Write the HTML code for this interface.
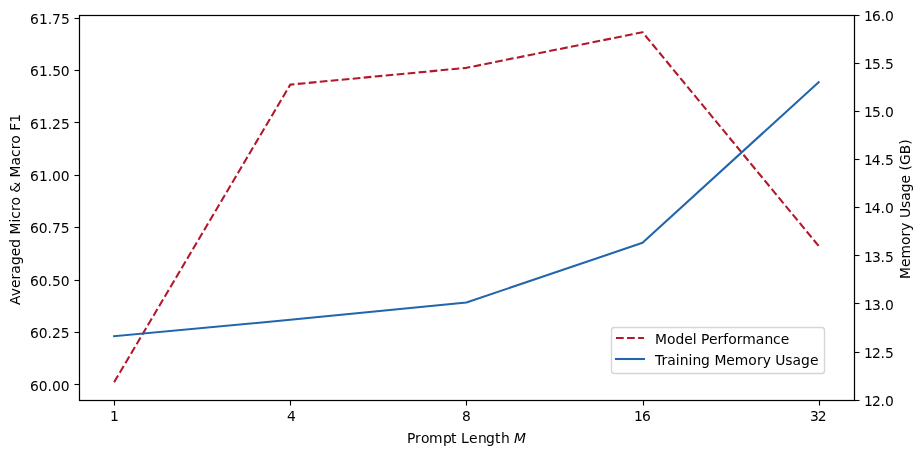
<!DOCTYPE html>
<html lang="en"><head><meta charset="utf-8"><title>Prompt Length vs Performance and Memory</title>
<style>html,body{margin:0;padding:0;background:#fff}svg{display:block}text{font-family:"DejaVu Sans","Liberation Sans",sans-serif;font-size:13.8889px;fill:#000;white-space:pre}.tk{stroke:#000;stroke-width:1.1111;fill:none}.sp{stroke:#000;stroke-width:1.1111;fill:none;stroke-linecap:square;stroke-linejoin:miter}</style></head><body>
<svg width="924" height="457" viewBox="0 0 924 457">
<rect width="924" height="457" fill="#fff"/>
<g class="tk">
<path d="M114.5 400.5V405.5"/>
<path d="M290.5 400.5V405.5"/>
<path d="M466.5 400.5V405.5"/>
<path d="M643.5 400.5V405.5"/>
<path d="M819.5 400.5V405.5"/>
<path d="M79.5 18.5H74.5"/>
<path d="M79.5 70.5H74.5"/>
<path d="M79.5 122.5H74.5"/>
<path d="M79.5 175.5H74.5"/>
<path d="M79.5 227.5H74.5"/>
<path d="M79.5 280.5H74.5"/>
<path d="M79.5 332.5H74.5"/>
<path d="M79.5 384.5H74.5"/>
<path d="M854.5 15.5H859.5"/>
<path d="M854.5 63.5H859.5"/>
<path d="M854.5 111.5H859.5"/>
<path d="M854.5 159.5H859.5"/>
<path d="M854.5 207.5H859.5"/>
<path d="M854.5 255.5H859.5"/>
<path d="M854.5 303.5H859.5"/>
<path d="M854.5 352.5H859.5"/>
<path d="M854.5 400.5H859.5"/>
</g>
<text x="109.911" y="421">1</text>
<text x="286.922" y="421">4</text>
<text x="461.934" y="421">8</text>
<text x="633.921" y="421" dx="0 -0.65">16</text>
<text x="809.934" y="421" dx="0 -0.9">32</text>
<text x="30.103" y="24" dx="0 -0.03 -0.03 -0.03 -0.03">61.75</text>
<text x="30.103" y="76" dx="0 -0.03 -0.03 0.22 -0.53">61.50</text>
<text x="30.071" y="129" dx="0 -0.01 -0.01 -0.01 -0.01">61.25</text>
<text x="30.103" y="181" dx="0 -0.03 -0.03 -0.03 -0.28">61.00</text>
<text x="30.056" y="233" dx="0 -0.07 -0.07 -0.07 -0.07">60.75</text>
<text x="30.056" y="286" dx="0 -0.07 -0.07 -0.07 -0.07">60.50</text>
<text x="30.056" y="338" dx="0 -0.07 -0.07 -0.07 -0.07">60.25</text>
<text x="30.056" y="391" dx="0 -0.07 -0.07 -0.07 -0.07">60.00</text>
<text x="863.875" y="21" dx="0 -0.6 -0.1 -0.35">16.0</text>
<text x="863.875" y="69" dx="0 -0.6 -0.35 -0.1">15.5</text>
<text x="863.875" y="117" dx="0 -0.6 -0.35 -0.1">15.0</text>
<text x="863.875" y="165" dx="0 -0.85 -0.1 -0.1">14.5</text>
<text x="863.875" y="213" dx="0 -0.85 -0.1 -0.1">14.0</text>
<text x="863.875" y="262" dx="0 -0.6 -0.35 -0.1">13.5</text>
<text x="863.875" y="310" dx="0 -0.6 -0.35 -0.1">13.0</text>
<text x="863.875" y="358" dx="0 -0.6 -0.35 -0.1">12.5</text>
<text x="863.875" y="406" dx="0 -0.6 -0.35 -0.1">12.0</text>
<text x="406.993" y="443" dx="0 -0.215 0.785 -0.715 0.535 -0.715 0.535 -0.465 0.535 0.535 -0.965 0.285 0.535 -0.215 0.035">Prompt Length <tspan font-style="oblique">M</tspan></text>
<text transform="translate(20 305.008) rotate(-90)" dx="0 0.025 0.025 0.025 0.025 0.275 -0.225 0.025 0.025 0.025 0.025 -0.225 0.275 0.025 0.025 -0.225 0.275 -0.225 0.025 0.025 0.025 0.025 0.275 0.025 -0.225">Averaged Micro &amp; Macro F1</text>
<text transform="translate(910 278.914) rotate(-90)">Memory Usage (GB)</text>
<polyline points="114.130,382.222 290.266,84.617 466.403,67.851 642.539,32.222 818.676,245.995" fill="none" stroke="#b2182b" stroke-width="2.0833" stroke-dasharray="7.7083 3.3333" stroke-linejoin="round"/>
<path class="sp" d="M79.5 400.5V15.5M854.5 400.5V15.5M79.5 400.5H854.5M79.5 15.5H854.5"/>
<path class="sp" d="M79.5 400.5V15.5M854.5 400.5V15.5M79.5 400.5H854.5M79.5 15.5H854.5"/>
<g fill="#000" fill-opacity="0.11">
<rect x="79.0" y="14.0" width="776.0" height="1"/>
<rect x="79.0" y="16.0" width="776.0" height="1"/>
<rect x="79.0" y="399.0" width="776.0" height="1"/>
<rect x="79.0" y="401.0" width="776.0" height="1"/>
</g>
<rect x="611.5" y="327.5" width="213.000" height="46.000" rx="2.778" fill="#fff" stroke="#d6d6d6" stroke-width="1.3889"/>
<path d="M616 338H644" fill="none" stroke="#b2182b" stroke-width="2.0833" stroke-dasharray="7.7083 3.3333"/>
<path d="M616 359H644" fill="none" stroke="#2166ac" stroke-width="2.0833" stroke-linecap="square"/>
<text x="654.895" y="344" dx="0 0.02 0.02 0.02 0.02 0.02 -0.23 0.27 0.02 0.02 0.02 0.02 0.02 0.02 0.27 -0.48 0.27">Model Performance</text>
<text x="654.895" y="365" dx="0 0.255 0.005 0.005 0.005 0.005 0.255 -0.495 0.255 0.005 -0.245 0.005 0.005 0.255 0.005 0.005 0.005 -0.245 0.005 0.005 0.255">Training Memory Usage</text>
<polyline points="114.130,336.197 290.266,319.835 466.403,302.510 642.539,242.835 818.676,82.097" fill="none" stroke="#2166ac" stroke-width="2.0833" stroke-linejoin="round" stroke-linecap="square"/>
</svg></body></html>
